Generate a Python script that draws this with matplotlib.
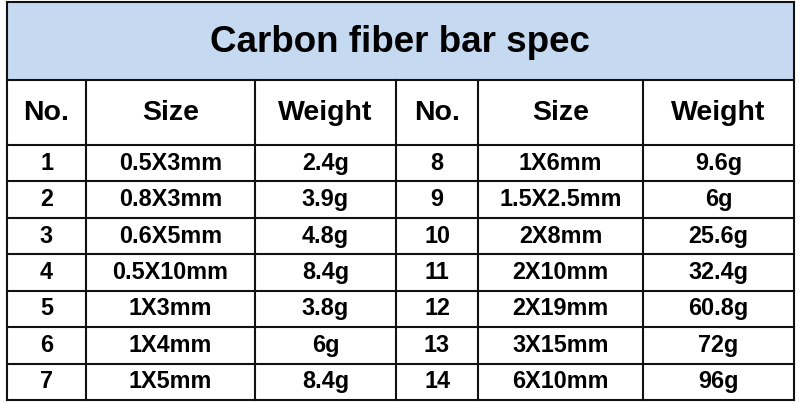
import matplotlib.pyplot as plt

title = "Carbon fiber bar spec"
headers = ["No.", "Size", "Weight", "No.", "Size", "Weight"]
no_left = ["1", "2", "3", "4", "5", "6", "7"]
size_left = ["0.5X3mm", "0.8X3mm", "0.6X5mm", "0.5X10mm", "1X3mm", "1X4mm", "1X5mm"]
weight_left = ["2.4g", "3.9g", "4.8g", "8.4g", "3.8g", "6g", "8.4g"]
no_right = ["8", "9", "10", "11", "12", "13", "14"]
size_right = ["1X6mm", "1.5X2.5mm", "2X8mm", "2X10mm", "2X19mm", "3X15mm", "6X10mm"]
weight_right = ["9.6g", "6g", "25.6g", "32.4g", "60.8g", "72g", "96g"]

fig = plt.figure(figsize=(8, 4.03), dpi=100)
ax = fig.add_axes([0, 0, 1, 1])
ax.set_xlim(0, 800); ax.set_ylim(403, 0); ax.axis("off")

xs = [7, 86, 255, 396, 478, 643, 794]
top, hdr_top, hdr_bot, bot = 2, 80, 145, 400
rows = 7
rh = (bot - hdr_bot) / rows

ax.add_patch(plt.Rectangle((xs[0], top), xs[-1]-xs[0], hdr_top-top, facecolor="#C5D9F1", edgecolor="none"))
ax.text(400, (top+hdr_top)/2+2, title, ha="center", va="center", fontsize=26.5, fontweight="bold", family="Liberation Sans")

lw = 1.5
for y in [top, hdr_top, hdr_bot] + [hdr_bot + i*rh for i in range(1, rows+1)]:
    ax.plot([xs[0], xs[-1]], [y, y], color="#111111", lw=lw)
for i, x in enumerate(xs):
    y0 = top if i in (0, len(xs)-1) else hdr_top
    ax.plot([x, x], [y0, bot], color="#111111", lw=lw)

cx = [(xs[i]+xs[i+1])/2 for i in range(6)]
for c, h in zip(cx, headers):
    ax.text(c, (hdr_top+hdr_bot)/2, h, ha="center", va="center", fontsize=20.5, fontweight="bold", family="Liberation Sans")
cols = [no_left, size_left, weight_left, no_right, size_right, weight_right]
for ci, col in enumerate(cols):
    for r, v in enumerate(col):
        ax.text(cx[ci], hdr_bot + (r+0.5)*rh, v, ha="center", va="center", fontsize=16.8, fontweight="bold", family="Liberation Sans")

fig.savefig("out.png", dpi=100, facecolor="white")
